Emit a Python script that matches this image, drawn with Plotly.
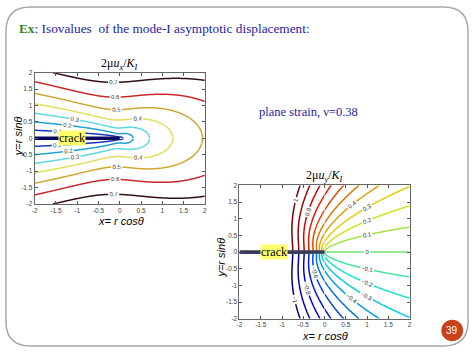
import numpy as np
import plotly.graph_objects as go

# ---- data ----
nu = 0.38                                   # Poisson ratio printed on the slide
kappa = (3 - nu) / (1 + nu)                  # Kolosov constant that matches the drawn isolines
ux_levels = [0.0, 0.1, 0.2, 0.3, 0.4, 0.5, 0.6, 0.7]
ux_colors = ["#000080", "#1838c0", "#20a0d0", "#60d8e0", "#e0e060", "#d0a830", "#c82828", "#301010"]
uy_levels = [round(-1 + 0.1 * i, 1) for i in range(21)]
uy_labeled = [1.0, 0.8, 0.6, 0.4, 0.3, 0.2, 0.1, 0.0, -0.1, -0.2, -0.3, -0.4, -0.6, -0.8, -1.0]
tick_vals = [-2, -1.5, -1, -0.5, 0, 0.5, 1, 1.5, 2]
tick_text = ["-2", "-1.5", "-1", "-0.5", "0", "0.5", "1", "1.5", "2"]
crack_x = [-2, 0]
crack_y = [0, 0]
heading_ex = "Ex"
heading_rest = ": Isovalues  of the mode-I asymptotic displacement:"
side_note = "plane strain, ν=0.38"
page_no = "39"


def jet(t):
    r = np.clip(1.5 - abs(4 * t - 3), 0, 1)
    g = np.clip(1.5 - abs(4 * t - 2), 0, 1)
    b = np.clip(1.5 - abs(4 * t - 1), 0, 1)
    k = 0.9
    return f"rgb({int(r*255*k)},{int(g*255*k)},{int(b*255*k)})"


# ---- isovalue fields (mode-I asymptotic displacement) ----
def fields(xv, yv, branch):
    X, Y = np.meshgrid(xv, yv)
    r = np.sqrt(X**2 + Y**2)
    if branch == "lo":
        th = -np.arctan2(-Y, X)
    else:
        th = np.arctan2(Y, X)
    c = np.sqrt(r / (2 * np.pi))
    ux = c * np.cos(th / 2) * (kappa - np.cos(th))
    uy = c * np.sin(th / 2) * (kappa - np.cos(th))
    return ux, uy


x_full = np.linspace(-2, 2, 241)
y_up = np.linspace(0, 2, 121)
y_lo = np.linspace(-2, 0, 121)
x_left = np.linspace(-2, 0, 121)
x_right = np.linspace(0, 2, 121)
y_full = np.linspace(-2, 2, 240)

ux_u, _ = fields(x_full, y_up, "up")
ux_l, _ = fields(x_full, y_lo, "lo")
_, uy_lu = fields(x_left, y_up, "up")
_, uy_ll = fields(x_left, y_lo, "lo")
_, uy_r = fields(x_right, y_full, "r")

W, H = 474, 355
def px(x): return x / W
def py(y): return 1 - y / H

fig = go.Figure()


def add_level(xv, yv, z, lev, color, xa, ya, label):
    fig.add_trace(go.Contour(
        x=xv, y=yv, z=z, xaxis=xa, yaxis=ya, autocontour=False, showscale=False,
        contours=dict(start=lev, end=lev, size=1, coloring="none", showlabels=label,
                      labelfont=dict(size=6, color="#333", family="Arial")),
        line=dict(width=1.5, color=color), hoverinfo="skip"))


for lev, col in zip(ux_levels, ux_colors):
    add_level(x_full, y_up, ux_u, lev, col, "x", "y", True)
    add_level(x_full, y_lo, ux_l, lev, col, "x", "y", True)

for lev in uy_levels:
    col = jet((lev + 1) / 2)
    lab = lev in uy_labeled
    add_level(x_left, y_up, uy_lu, lev, col, "x2", "y2", lab and lev >= 0.6)
    add_level(x_left, y_lo, uy_ll, lev, col, "x2", "y2", lab and lev <= -0.6)
    add_level(x_right, y_full, uy_r, lev, col, "x2", "y2", lab and abs(lev) <= 0.45)

fig.add_trace(go.Scatter(x=crack_x, y=crack_y, xaxis="x", yaxis="y", mode="lines",
                         line=dict(color="#0a0a60", width=3.5), hoverinfo="skip"))
fig.add_trace(go.Scatter(x=crack_x, y=crack_y, xaxis="x2", yaxis="y2", mode="lines",
                         line=dict(color="#3a3a50", width=3.5), hoverinfo="skip"))

ax_common = dict(range=[-2, 2], tickvals=tick_vals, ticktext=tick_text, ticks="inside",
                 ticklen=3, tickcolor="#555", showgrid=False, zeroline=False,
                 showline=True, linecolor="#666", linewidth=1, mirror="ticks",
                 tickfont=dict(size=6.5, color="#444", family="Arial"))

fig.update_layout(
    width=W, height=H, margin=dict(l=0, r=0, t=0, b=0),
    paper_bgcolor="white", plot_bgcolor="white", showlegend=False,
    xaxis=dict(domain=[px(32), px(204)], anchor="y", ticklabelstandoff=0, **ax_common),
    yaxis=dict(domain=[py(204), py(70)], anchor="x", **ax_common),
    xaxis2=dict(domain=[px(239), px(411)], anchor="y2", ticklabelstandoff=0, **ax_common),
    yaxis2=dict(domain=[py(321), py(185)], anchor="x2", **ax_common),
)

serif = "Liberation Serif, Times New Roman, serif"
sans = "Liberation Sans, Arial, sans-serif"
ann = []
ann.append(dict(x=px(14), y=py(25), xref="paper", yref="paper", xanchor="left", yanchor="middle",
                text=f"<b><span style='color:#2e8a1e'>{heading_ex}</span></b>"
                     f"<span style='color:#1c1ca8'>{heading_rest}</span>",
                showarrow=False, font=dict(family=serif, size=13.3)))
ann.append(dict(x=px(257), y=py(110), xref="paper", yref="paper", xanchor="left", yanchor="middle",
                text=side_note, showarrow=False, font=dict(family=serif, size=12.5, color="#1c1ca8")))
for cx, cy, sub in [(118, 61, "x"), (325, 175, "y")]:
    ann.append(dict(x=px(cx), y=py(cy), xref="paper", yref="paper", xanchor="center",
                    yanchor="middle", showarrow=False,
                    text=f"2μ<i>u</i><sub><i>{sub}</i></sub>/<i>K</i><sub><i>I</i></sub>",
                    font=dict(family=serif, size=12, color="black")))
for cx, cy in [(119, 221), (325, 339)]:
    ann.append(dict(x=px(cx), y=py(cy), xref="paper", yref="paper", xanchor="center",
                    yanchor="middle", showarrow=False, text="<i>x= r cosθ</i>",
                    font=dict(family=sans, size=11, color="black")))
for cx, cy in [(15, 135), (220, 259)]:
    ann.append(dict(x=px(cx), y=py(cy), xref="paper", yref="paper", xanchor="center",
                    yanchor="middle", showarrow=False, text="<i>y=r sinθ</i>", textangle=-90,
                    font=dict(family=sans, size=11, color="black")))
for xa, ya, cx in [("x", "y", -1.12), ("x2", "y2", -1.19)]:
    ann.append(dict(x=cx, y=0, xref=xa, yref=ya, showarrow=False, text="crack",
                    bgcolor="rgb(255,255,110)", borderpad=0,
                    font=dict(family=serif, size=12, color="black")))
ann.append(dict(x=px(454), y=py(333), xref="paper", yref="paper", xanchor="center", yanchor="middle",
                showarrow=False, text=page_no,
                font=dict(family=sans, size=10, color="white")))
fig.update_layout(annotations=ann)

# slide frame (rounded rectangle) and page-number badge
L, T, R, B, rad = 3, 3, 470, 349, 25
path = (f"M {px(L+rad)},{py(T)} L {px(R-rad)},{py(T)} Q {px(R)},{py(T)} {px(R)},{py(T+rad)} "
        f"L {px(R)},{py(B-rad)} Q {px(R)},{py(B)} {px(R-rad)},{py(B)} "
        f"L {px(L+rad)},{py(B)} Q {px(L)},{py(B)} {px(L)},{py(B-rad)} "
        f"L {px(L)},{py(T+rad)} Q {px(L)},{py(T)} {px(L+rad)},{py(T)} Z")
fig.update_layout(shapes=[
    dict(type="path", path=path, xref="paper", yref="paper", layer="below",
         line=dict(color="#a8a8a8", width=1.5)),
    dict(type="circle", xref="paper", yref="paper", x0=px(443), x1=px(465), y0=py(344), y1=py(322),
         layer="below", fillcolor="#c8431c", line=dict(color="#c8431c", width=0)),
])

fig.write_html("out.html")
